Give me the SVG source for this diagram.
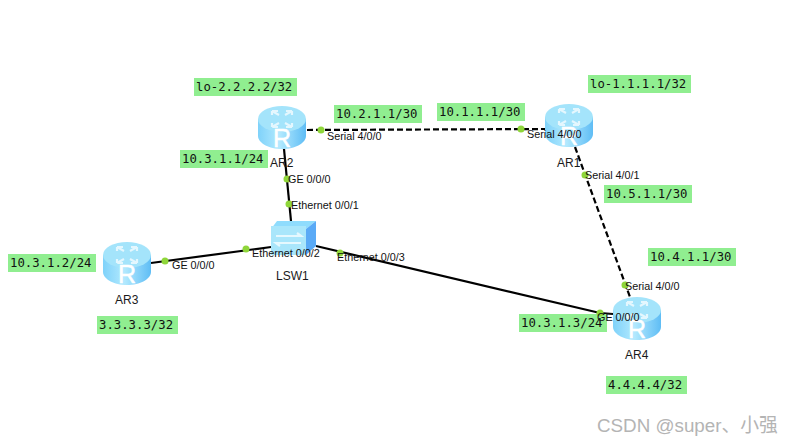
<svg xmlns="http://www.w3.org/2000/svg" width="793" height="445" viewBox="0 0 793 445">
<style>
.bg{fill:#fff}
.c{fill:none;stroke:#000;stroke-width:2.2}
.d{stroke-dasharray:6 3}
.dot{fill:#8fd63a}
.t{font:10.8px "Liberation Sans",Arial,sans-serif;fill:#111}
.n{font:12px "Liberation Sans",Arial,sans-serif;fill:#1a1a1a}
.lb{fill:#90ee90}
.m{font:12.3px "DejaVu Sans Mono","Liberation Mono",monospace;fill:#111}
.wm{font:18.8px "Liberation Sans","Noto Sans CJK SC",sans-serif;fill:#b4b4b4}
.g{fill:none;stroke:#fff;stroke-opacity:.7;stroke-width:2.2}
</style>
<defs>
<linearGradient id="rb" x1="0" x2="1" y1="0" y2="0"><stop offset="0" stop-color="#7fd2fa"/><stop offset=".45" stop-color="#b2e9fe"/><stop offset="1" stop-color="#5fbdf5"/></linearGradient>
<g id="router">
<path d="M0 13V30C0 37 11 43 24 43S48 37 48 30V13Z" fill="url(#rb)"/>
<ellipse cx="24" cy="13" rx="24" ry="13" fill="#a4e4fb"/>
<path class="g" d="M14 5l7 4M14 5h6M14 5v4M34 5l-7 4M34 5h-6M34 5v4M14 21l7-4M14 21h6M14 21v-4M34 21l-7-4M34 21h-6M34 21v-4"/>
<text x="24" y="41" text-anchor="middle" style="font:25px 'Liberation Sans',sans-serif;fill:#fff;stroke:#fff;stroke-width:.5">R</text>
</g>
</defs>
<rect class="bg" width="793" height="445"/>
<g id="connectors">
<path class="c d" d="M307 130L545 129"/>
<path class="c d" d="M575 147L630 297"/>
<path class="c" d="M284 149L291 221"/>
<path class="c" d="M151 263L271 247"/>
<path class="c" d="M316 246L600 313L613 314"/>
</g>
<g id="AR2"><use href="#router" x="258" y="106"/></g>
<g id="AR1"><use href="#router" x="545" y="104"/></g>
<g id="AR3"><use href="#router" x="103" y="242"/></g>
<g id="AR4"><use href="#router" x="613" y="297"/></g>
<g id="LSW1">
<path d="M271 229L277 221H316L306 229Z" fill="#8fdcfd"/>
<path d="M306 229L316 221V246L306 255Z" fill="#5aaaf6"/>
<rect x="271" y="226" width="35" height="29" fill="#a9e6fb"/>
<path class="g" d="M276 236H301L297 233M301 243H276L280 246"/>
</g>
<g id="node-names">
<text class="n" x="270" y="167">AR2</text>
<text class="n" x="557" y="167">AR1</text>
<text class="n" x="115" y="304">AR3</text>
<text class="n" x="625" y="359">AR4</text>
<text class="n" x="276" y="280">LSW1</text>
</g>
<g id="ip-labels">
<rect class="lb" x="194" y="78" width="103" height="18"/><text class="m" x="196" y="91">lo-2.2.2.2/32</text>
<rect class="lb" x="334" y="105" width="88" height="18"/><text class="m" x="336" y="118">10.2.1.1/30</text>
<rect class="lb" x="437" y="103" width="88" height="18"/><text class="m" x="439" y="116">10.1.1.1/30</text>
<rect class="lb" x="588" y="75" width="103" height="18"/><text class="m" x="590" y="88">lo-1.1.1.1/32</text>
<rect class="lb" x="180" y="150" width="88" height="18"/><text class="m" x="182" y="163">10.3.1.1/24</text>
<rect class="lb" x="604" y="185" width="88" height="18"/><text class="m" x="606" y="198">10.5.1.1/30</text>
<rect class="lb" x="648" y="248" width="88" height="18"/><text class="m" x="650" y="261">10.4.1.1/30</text>
<rect class="lb" x="8" y="254" width="88" height="18"/><text class="m" x="10" y="267">10.3.1.2/24</text>
<rect class="lb" x="97" y="316" width="81" height="18"/><text class="m" x="99" y="329">3.3.3.3/32</text>
<rect class="lb" x="519" y="314" width="88" height="18"/><text class="m" x="521" y="327">10.3.1.3/24</text>
<rect class="lb" x="606" y="376" width="81" height="18"/><text class="m" x="608" y="389">4.4.4.4/32</text>
</g>
<g id="ports">
<circle class="dot" cx="321" cy="130" r="3.5"/><circle class="dot" cx="521" cy="129" r="3.5"/>
<circle class="dot" cx="585" cy="175" r="3.5"/><circle class="dot" cx="625" cy="285" r="3.5"/>
<circle class="dot" cx="287" cy="179" r="3.5"/><circle class="dot" cx="289" cy="204" r="3.5"/>
<circle class="dot" cx="165" cy="261" r="3.5"/><circle class="dot" cx="246" cy="249" r="3.5"/>
<circle class="dot" cx="340" cy="253" r="3.5"/><circle class="dot" cx="600" cy="313" r="3.5"/>
</g>
<g id="interface-labels">
<text class="t" x="327" y="140">Serial 4/0/0</text>
<text class="t" x="527" y="138">Serial 4/0/0</text>
<text class="t" x="585" y="179">Serial 4/0/1</text>
<text class="t" x="625" y="290">Serial 4/0/0</text>
<text class="t" x="288" y="183">GE 0/0/0</text>
<text class="t" x="291" y="209">Ethernet 0/0/1</text>
<text class="t" x="172" y="269">GE 0/0/0</text>
<text class="t" x="252" y="257">Ethernet 0/0/2</text>
<text class="t" x="337" y="261">Ethernet 0/0/3</text>
<text class="t" x="597" y="321">GE 0/0/0</text>
</g>
<text class="wm" x="597" y="432">CSDN @super、小强</text>
</svg>
